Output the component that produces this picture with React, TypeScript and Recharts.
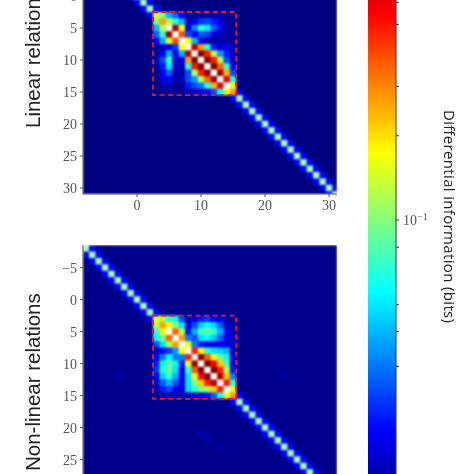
import { Bar, BarChart, ReferenceArea, Scatter, ScatterChart, XAxis, YAxis } from "recharts";

// block covers rows and columns 3..15 (1.1 = white, over the colour range)
const blockStart = 3;
const linearBlock = [
  [0.6, 0.5, 0.3, 0.22, 0.12, 0.02, 0.02, 0.03, 0.05, 0.05, 0.03, 0.02, 0.01],
  [0.5, 0.72, 0.55, 0.42, 0.3, 0.05, 0.1, 0.18, 0.2, 0.15, 0.1, 0.03, 0.01],
  [0.3, 0.55, 1.1, 0.97, 0.6, 0.12, 0.25, 0.42, 0.36, 0.22, 0.12, 0.04, 0.02],
  [0.22, 0.42, 0.97, 1.1, 0.8, 0.2, 0.12, 0.22, 0.18, 0.1, 0.06, 0.03, 0.02],
  [0.12, 0.3, 0.6, 0.8, 1.1, 0.62, 0.3, 0.1, 0.05, 0.03, 0.04, 0.03, 0.02],
  [0.02, 0.06, 0.1, 0.18, 0.62, 1.1, 0.95, 0.72, 0.42, 0.15, 0.08, 0.12, 0.04],
  [0.03, 0.12, 0.3, 0.1, 0.3, 0.95, 1.1, 1.0, 0.85, 0.55, 0.28, 0.15, 0.05],
  [0.04, 0.2, 0.42, 0.08, 0.1, 0.72, 1.0, 1.1, 1.0, 0.85, 0.55, 0.2, 0.06],
  [0.03, 0.15, 0.36, 0.06, 0.05, 0.42, 0.85, 1.0, 1.1, 1.0, 0.78, 0.42, 0.1],
  [0.02, 0.12, 0.22, 0.05, 0.04, 0.2, 0.55, 0.85, 1.0, 1.1, 0.97, 0.7, 0.2],
  [0.01, 0.1, 0.13, 0.04, 0.04, 0.2, 0.28, 0.55, 0.78, 0.97, 1.1, 0.9, 0.4],
  [0.01, 0.05, 0.05, 0.02, 0.03, 0.15, 0.2, 0.25, 0.42, 0.7, 0.9, 1.1, 0.6],
  [0.01, 0.01, 0.02, 0.02, 0.02, 0.05, 0.06, 0.08, 0.12, 0.2, 0.4, 0.6, 0.72],
];
const nonLinearBlock = [
  [0.6, 0.55, 0.42, 0.38, 0.2, 0.05, 0.08, 0.15, 0.18, 0.12, 0.08, 0.04, 0.02],
  [0.55, 0.72, 0.62, 0.5, 0.35, 0.1, 0.2, 0.33, 0.38, 0.33, 0.22, 0.08, 0.03],
  [0.42, 0.62, 1.1, 0.78, 0.55, 0.15, 0.3, 0.45, 0.47, 0.42, 0.3, 0.13, 0.04],
  [0.38, 0.5, 0.78, 1.1, 0.72, 0.25, 0.2, 0.35, 0.38, 0.32, 0.22, 0.12, 0.05],
  [0.2, 0.35, 0.55, 0.72, 1.1, 0.62, 0.25, 0.15, 0.12, 0.1, 0.12, 0.1, 0.05],
  [0.05, 0.12, 0.18, 0.28, 0.62, 1.1, 0.85, 0.6, 0.42, 0.35, 0.33, 0.3, 0.06],
  [0.1, 0.25, 0.38, 0.25, 0.25, 0.85, 1.1, 0.98, 0.78, 0.62, 0.48, 0.38, 0.07],
  [0.15, 0.38, 0.47, 0.38, 0.15, 0.6, 0.98, 1.1, 1.0, 0.88, 0.68, 0.45, 0.1],
  [0.18, 0.4, 0.48, 0.35, 0.12, 0.42, 0.78, 1.0, 1.1, 1.0, 0.85, 0.55, 0.15],
  [0.12, 0.33, 0.42, 0.3, 0.1, 0.35, 0.62, 0.88, 1.0, 1.1, 0.95, 0.68, 0.25],
  [0.08, 0.22, 0.3, 0.2, 0.1, 0.35, 0.5, 0.68, 0.85, 0.95, 1.1, 0.85, 0.42],
  [0.05, 0.15, 0.2, 0.12, 0.08, 0.34, 0.42, 0.5, 0.55, 0.68, 0.85, 1.1, 0.6],
  [0.02, 0.03, 0.04, 0.04, 0.04, 0.05, 0.07, 0.1, 0.14, 0.22, 0.4, 0.6, 0.72],
];

const axisCells = [-8, -7, -6, -5, -4, -3, -2, -1, 0, 1, 2, 3, 4, 5, 6, 7, 8, 9, 10, 11, 12, 13, 14, 15, 16, 17, 18, 19, 20, 21, 22, 23, 24, 25, 26, 27, 28, 29, 30, 31];
const diagonalLevel = 0.5;
const diagonalFill = "#a8ffb4";
const besideDiagonalLevel = 0.13;
const linearBackground = 0;
const nonLinearBackground = 0.012;
// faint patches in the non-linear panel: [x, y, level]
const faintSpots = [
  [-3, 12, 0.04],
  [23, 12, 0.04],
  [22, 11, 0.035],
  [10, 21, 0.05],
  [11, 22, 0.05],
  [13, 23, 0.035],
];

const heatXTicks = [0, 10, 20, 30];
const heatYTicks = [-5, 0, 5, 10, 15, 20, 25, 30];
const selection = [2.5, 15.5];

const colorbarRow = [{ name: "scale", top: 0.611 }];
const colorbarTicks = [0.03, 0.04, 0.05, 0.08, 0.1, 0.2, 0.3, 0.5, 0.6];
const colorbarLevels = [0.9, 0.875, 0.64, 0.625, 0.375, 0.36, 0.125, 0.11, 0.048];

const PLOT = 254;
const xDomain: [number, number] = [-8.44, 31.25];
const CELL = PLOT / (xDomain[1] - xDomain[0]);

function jet(v: number) {
  if (v > 1.05) return "#ffffff";
  const c = (d: number) => Math.round(255 * Math.max(0, Math.min(1, 1.5 - Math.abs(4 * v - d))));
  return `rgb(${c(3)},${c(2)},${c(1)})`;
}

function buildCells(block: number[][], background: number, spots: number[][]) {
  const cells: { x: number; y: number; v: number; fill: string }[] = [];
  axisCells.forEach((y) => {
    axisCells.forEach((x) => {
      let v = background;
      if (x === y) v = diagonalLevel;
      else if (Math.abs(x - y) === 1) v = besideDiagonalLevel;
      const row = block[y - blockStart];
      const inBlock = row && row[x - blockStart] !== undefined;
      if (inBlock) v = row[x - blockStart];
      spots.forEach((s) => {
        if (s[0] === x && s[1] === y) v = s[2];
      });
      cells.push({ x, y, v, fill: x === y && !inBlock ? diagonalFill : jet(v) });
    });
  });
  return cells;
}

const HeatCell = (props: any) => (
  <rect
    x={props.cx - CELL / 2}
    y={props.cy - CELL / 2}
    width={CELL + 1}
    height={CELL + 1}
    fill={props.payload.fill}
  />
);

const tickStyle = { fontFamily: "'Liberation Serif', serif", fontSize: 14, fill: "#555" };
const noCells: any[] = [];

function Panel({ top, yDomain, cells }: { top: number; yDomain: [number, number]; cells: any[] }) {
  const chart = (withCells: boolean) => (
    <ScatterChart width={345} height={PLOT + 30} margin={{ top: 0, right: 8, bottom: 0, left: 0 }}>
      <XAxis
        type="number"
        dataKey="x"
        domain={xDomain}
        ticks={heatXTicks}
        allowDataOverflow
        height={30}
        tickSize={3}
        tickMargin={3}
        tick={withCells ? false : tickStyle}
        stroke={withCells ? "none" : "#555"}
      />
      <YAxis
        type="number"
        dataKey="y"
        domain={yDomain}
        ticks={heatYTicks}
        reversed
        allowDataOverflow
        width={83}
        tickSize={3}
        tickMargin={3}
        tickFormatter={(v: number) => (v < 0 ? `\u2212${-v}` : `${v}`)}
        tick={withCells ? false : tickStyle}
        stroke={withCells ? "none" : "#555"}
      />
      <Scatter data={withCells ? cells : noCells} shape={HeatCell} isAnimationActive={false} />
      {!withCells && (
        <ReferenceArea
          x1={selection[0]}
          x2={selection[1]}
          y1={selection[0]}
          y2={selection[1]}
          fill="none"
          fillOpacity={0}
          stroke="#e8123c"
          strokeWidth={1.8}
          strokeDasharray="5 3.5"
        />
      )}
    </ScatterChart>
  );
  return (
    <>
      {/* cells get a stronger blur, clipped to the plot so it does not bleed on the axes */}
      <div style={{ position: "absolute", left: 83, top, width: PLOT, height: PLOT, overflow: "hidden" }}>
        <div style={{ position: "absolute", left: -83, top: 0, filter: "blur(1px)" }}>{chart(true)}</div>
      </div>
      <div style={{ position: "absolute", left: 0, top, filter: "blur(0.5px)" }}>{chart(false)}</div>
    </>
  );
}

const ColorbarTick = (props: any) => {
  const { x, y, payload } = props;
  if (payload.value !== 0.1) return null;
  return (
    <text x={x + 2} y={y + 5} fontFamily="'Liberation Serif', serif" fontSize={14} fill="#555">
      10
      <tspan dy={-5} fontSize={10}>
        {"\u22121"}
      </tspan>
    </text>
  );
};

function Colorbar() {
  const span = colorbarLevels[0] - colorbarLevels[colorbarLevels.length - 1];
  return (
    <div style={{ position: "absolute", left: 0, top: 0, filter: "blur(0.5px)" }}>
      <BarChart width={474} height={474} data={colorbarRow} margin={{ top: 0, right: 0, bottom: 0, left: 368 }} barCategoryGap={0}>
        <defs>
          <linearGradient id="jetBar" x1="0" y1="0" x2="0" y2="1">
            {colorbarLevels.map((v) => (
              <stop key={v} offset={`${((colorbarLevels[0] - v) / span) * 100}%`} stopColor={jet(v)} />
            ))}
          </linearGradient>
        </defs>
        <XAxis dataKey="name" hide />
        <YAxis
          orientation="right"
          scale="log"
          type="number"
          domain={[0.01239, 0.611]}
          ticks={colorbarTicks}
          allowDataOverflow
          width={78}
          tickSize={3}
          tick={ColorbarTick}
          interval={0}
          stroke="#333"
        />
        <Bar dataKey="top" fill="url(#jetBar)" isAnimationActive={false} />
      </BarChart>
    </div>
  );
}

const linearCells = buildCells(linearBlock, linearBackground, []);
const nonLinearCells = buildCells(nonLinearBlock, nonLinearBackground, faintSpots);

export default function App() {
  return (
    <div style={{ position: "fixed", left: 0, top: 0, width: 474, height: 474, overflow: "hidden", background: "#fff" }}>
      <Panel top={-60} yDomain={[-8.75, 30.94]} cells={linearCells} />
      <Panel top={244.7} yDomain={[-8.53, 31.16]} cells={nonLinearCells} />
      <Colorbar />
      <svg
        width={474}
        height={474}
        style={{ position: "absolute", left: 0, top: 0, pointerEvents: "none", filter: "blur(0.4px)" }}
      >
        <text
          transform="translate(40,128) rotate(-90)"
          fontFamily="'Liberation Sans', sans-serif"
          fontSize={20.5}
          fill="#222"
        >
          Linear relations
        </text>
        <text
          transform="translate(40,471) rotate(-90)"
          fontFamily="'Liberation Sans', sans-serif"
          fontSize={20.5}
          fill="#222"
        >
          Non-linear relations
        </text>
        <text
          transform="translate(444,110) rotate(90)"
          fontFamily="'Open Sans', sans-serif"
          fontSize={15}
          textLength={213}
          fill="#222"
        >
          Differential information (bits)
        </text>
      </svg>
    </div>
  );
}
